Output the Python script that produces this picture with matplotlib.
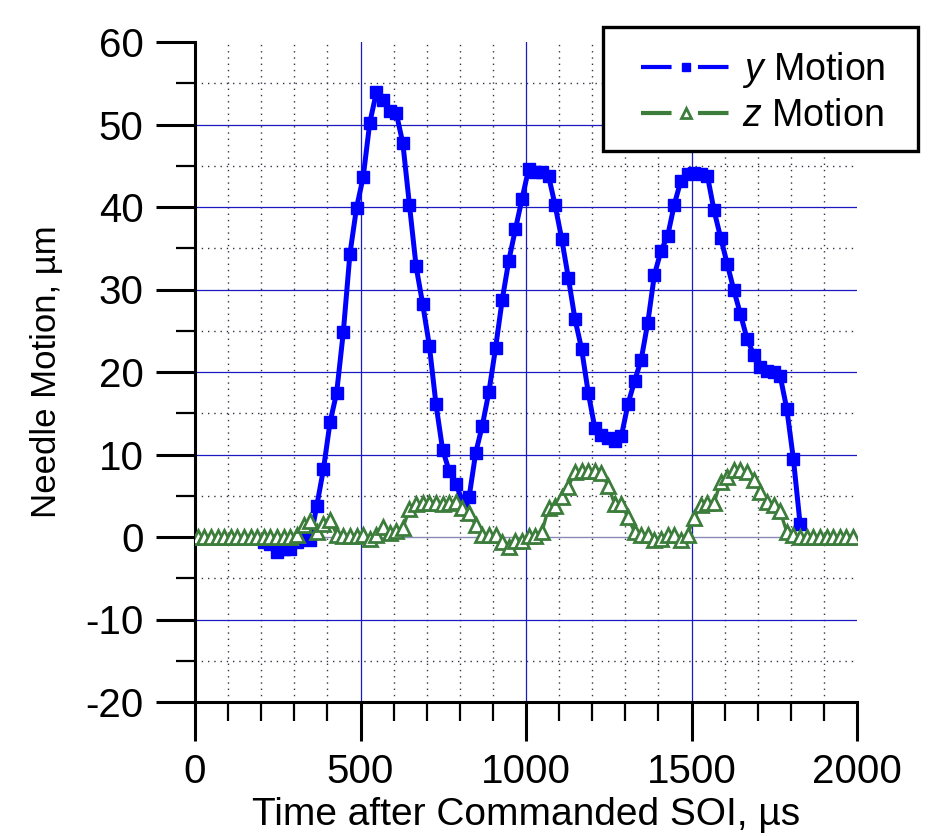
import matplotlib
matplotlib.use('Agg')
import matplotlib.pyplot as plt
from matplotlib.lines import Line2D
from matplotlib.patches import Rectangle
import numpy as np

plt.rcParams['font.family'] = ['Liberation Sans', 'DejaVu Sans']
plt.rcParams['lines.scale_dashes'] = False
plt.rcParams['axes.unicode_minus'] = False
plt.rcParams['mathtext.fontset'] = 'custom'
plt.rcParams['mathtext.it'] = 'Liberation Sans:italic'
plt.rcParams['mathtext.rm'] = 'Liberation Sans'

# temps d'échantillonnage (µs)
temps = [8, 28, 48, 68, 88, 108, 128, 148, 168, 188,
         208, 228, 248, 268, 288, 308, 328, 348, 368, 388,
         408, 428, 448, 468, 488, 508, 528, 548, 568, 588,
         608, 628, 648, 668, 688, 708, 728, 748, 768, 788,
         808, 828, 848, 868, 888, 908, 928, 948, 968, 988,
         1008, 1028, 1048, 1068, 1088, 1108, 1128, 1148, 1168, 1188,
         1208, 1228, 1248, 1268, 1288, 1308, 1328, 1348, 1368, 1388,
         1408, 1428, 1448, 1468, 1488, 1508, 1528, 1548, 1568, 1588,
         1608, 1628, 1648, 1668, 1688, 1708, 1728, 1748, 1768, 1788,
         1808, 1828, 1848, 1868, 1888, 1908, 1928, 1948, 1968, 1988]

# y motion (µm), mesurée de 208 à 1828 µs
y_motion = [None] * 10 + [
    -0.6, -0.8, -1.8, -1.4, -1.4, -0.6, 0.0, -0.4, 3.8, 8.2,
    13.9, 17.5, 24.8, 34.3, 39.9, 43.6, 50.2, 53.9, 53.0, 51.6,
    51.4, 47.7, 40.2, 32.8, 28.2, 23.2, 16.1, 10.6, 8.0, 6.4,
    4.4, 4.8, 10.2, 13.5, 17.6, 22.9, 28.7, 33.5, 37.3, 41.0,
    44.6, 44.3, 44.2, 43.8, 40.2, 36.1, 31.4, 26.4, 22.8, 17.5,
    13.2, 12.4, 12.0, 11.6, 12.2, 16.1, 18.9, 21.5, 26.0, 31.8,
    34.7, 36.5, 40.3, 43.2, 44.0, 44.1, 44.0, 43.8, 39.6, 36.3,
    33.1, 29.9, 27.0, 24.0, 22.1, 20.6, 20.1, 20.0, 19.5, 15.5,
    9.4, 1.6] + [None] * 8

# z motion (µm)
z_motion = [0, 0, 0, 0, 0, 0, 0, 0, 0, 0,
            0, 0, 0, 0, 0, 0.2, 1.4, 1.9, 0.6, 1.6,
            2.1, 0.3, 0.1, 0.1, 0.1, 0.2, -0.2, 0.3, 1.2, 0.5,
            0.7, 1.1, 3.4, 4.0, 4.1, 4.1, 4.1, 4.0, 4.1, 4.3,
            3.5, 2.9, 1.4, 0.2, 0.2, 0.2, -0.6, -1.2, -0.5, -0.5,
            0.1, 0.1, 0.6, 3.5, 3.7, 4.9, 6.1, 7.9, 8.0, 8.0,
            8.0, 7.8, 6.2, 4.0, 4.0, 2.4, 0.6, 0.2, 0.2, -0.4,
            -0.2, 0.2, 0.2, -0.4, 0.3, 2.3, 3.9, 4.1, 4.1, 6.7,
            7.3, 8.1, 8.1, 7.9, 6.9, 5.5, 4.3, 3.9, 3.1, 0.6,
            0.2, 0, 0, 0, 0, 0, 0, 0, 0, 0]

bleu = '#0000ff'
vert = '#3c7d3c'

t = np.array(temps, dtype=float)
yv = np.array([np.nan if v is None else v for v in y_motion], dtype=float)
zv = np.array(z_motion, dtype=float)

fig = plt.figure(figsize=(9.3, 8.36), dpi=100)
ax = fig.add_axes([195/930, 1 - 702/836, 662/930, 660/836])

# grille : majeure en bleu, mineure en pointillés
for xv in range(100, 2000, 100):
    if xv % 500 == 0:
        ax.axvline(xv, color='#1a1ac0', lw=0.9, zorder=1)
    else:
        ax.axvline(xv, color='#333344', lw=1.0, ls=(0, (1, 3.5)), zorder=1)
for yy in range(-15, 60, 5):
    if yy == 0:
        ax.axhline(yy, color='#8a8ab8', lw=1.0, zorder=1)
    elif yy % 10 == 0:
        ax.axhline(yy, color='#1a1ac0', lw=0.9, zorder=1)
    else:
        ax.axhline(yy, color='#333344', lw=1.0, ls=(0, (1, 3.5)), zorder=1)

ax.plot(t, yv, color=bleu, lw=3.6, marker='s', ms=8, mec=bleu, mfc=bleu, zorder=3)
ax.plot(t, zv, color=vert, lw=2.4, marker='^', ms=10, mec=vert, mfc='white',
        mew=2.0, zorder=4)

ax.set_xlim(0, 2000)
ax.set_ylim(-20, 60)
ax.set_xticks(np.arange(0, 2001, 500))
ax.set_xticks(np.arange(0, 2001, 100), minor=True)
ax.set_yticks(np.arange(-20, 61, 10))
ax.set_yticks(np.arange(-20, 61, 5), minor=True)

for s in ['top', 'right']:
    ax.spines[s].set_visible(False)
for s in ['left', 'bottom']:
    ax.spines[s].set_linewidth(2.2)

ax.tick_params(which='major', direction='out', length=28, width=2.2,
               labelsize=29, pad=9)
ax.tick_params(which='minor', direction='out', length=14, width=1.6)

ax.set_xlabel('Time after Commanded SOI, µs', fontsize=28, labelpad=4)
ax.set_ylabel('Needle Motion, µm', fontsize=25, labelpad=16)

# cadre de la légende
fig.add_artist(Rectangle((603/930, 1 - 151/836), 315/930, 124/836,
                         transform=fig.transFigure, facecolor='white',
                         edgecolor='black', lw=2.4, zorder=5))

# légende avec lignes interrompues autour du marqueur
h1 = Line2D([], [], color=bleu, lw=3, ls=(0, (22, 19)), marker='s', ms=6,
            mec=bleu, mfc=bleu)
h2 = Line2D([], [], color=vert, lw=3, ls=(0, (22, 19)), marker='^', ms=7,
            mec=vert, mfc='white', mew=2)
leg = fig.legend([h1, h2], ['$\\it{y}$ Motion', '$\\it{z}$ Motion'],
                 loc='upper left', bbox_to_anchor=(641/930, 1 - 50/836),
                 borderaxespad=0, borderpad=0, fontsize=27, numpoints=1,
                 handlelength=2.4, handletextpad=0.3, labelspacing=0.22,
                 frameon=False)
leg.set_zorder(6)

fig.savefig('out.png', dpi=100)
